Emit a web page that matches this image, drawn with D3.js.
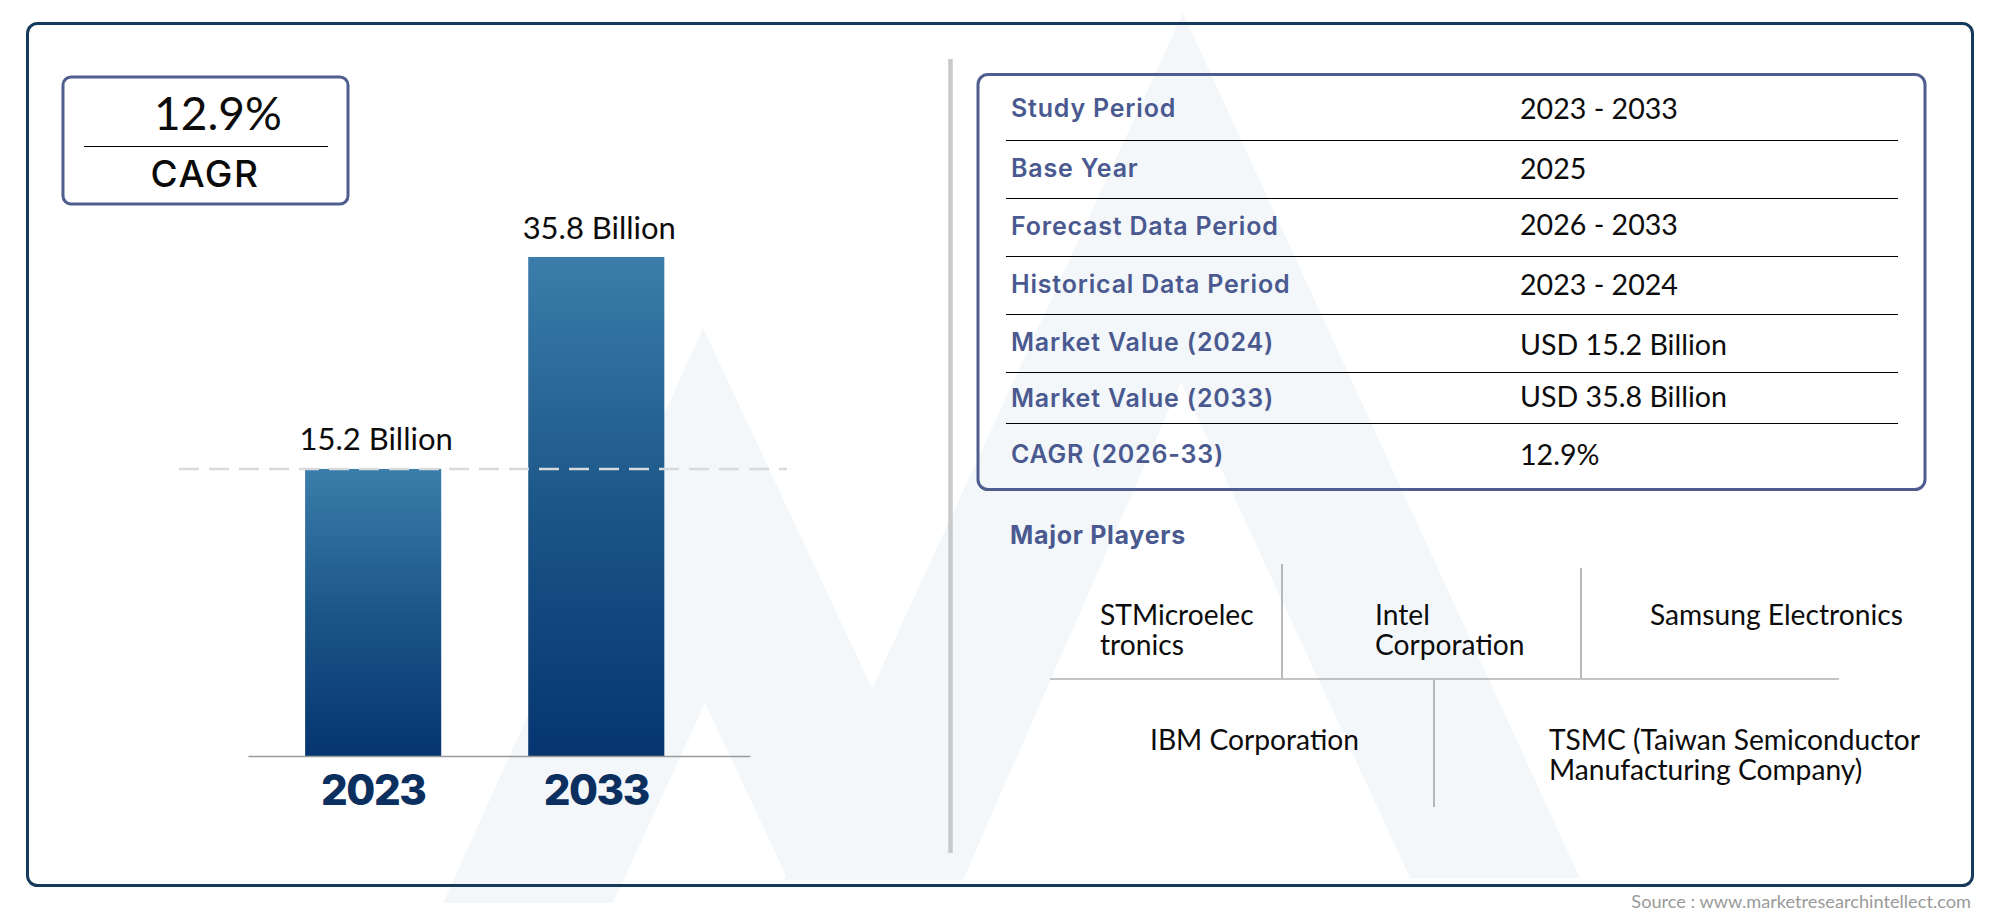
<!DOCTYPE html>
<html>
<head>
<meta charset="utf-8">
<title>Market overview</title>
<script src="https://cdn.jsdelivr.net/npm/d3@7"></script>
<style>
  html, body { margin: 0; padding: 0; background: #fff; }
  svg { display: block; }
  .jost { font-family: Lato, "Open Sans", sans-serif; fill: #0c0c0c; }
  .mont { font-family: Inter, "Noto Sans", sans-serif; }
</style>
</head>
<body>
<div id="chart"></div>
<script>
// chart values
const years = ['2023', '2033'];
const marketValues = [15.2, 35.8];
const cagrText = '12.9%';
const cagrLabel = 'CAGR';

const rowLabels = ['Study Period', 'Base Year', 'Forecast Data Period', 'Historical Data Period',
  'Market Value (2024)', 'Market Value (2033)', 'CAGR (2026-33)'];
const rowValues = ['2023 - 2033', '2025', '2026 - 2033', '2023 - 2024',
  'USD 15.2 Billion', 'USD 35.8 Billion', '12.9%'];

const playersTitle = 'Major Players';
const playerNames = [
  ['STMicroelec', 'tronics'],
  ['Intel', 'Corporation'],
  ['Samsung Electronics'],
  ['IBM Corporation'],
  ['TSMC (Taiwan Semiconductor', 'Manufacturing Company)']
];
const sourceText = 'Source : www.marketresearchintellect.com';

// layout
const width = 2000, height = 917;
const baseline = 756, barTop = 257;
const labelBaselines = [117, 177, 235, 293, 351, 407, 463];
const valueBaselines = [119, 179, 235, 295, 355, 407, 465];
const rowRules = [140, 198, 256, 314, 372, 423];
const playerAnchors = [[1100, 625], [1375, 625], [1650, 625], [1150, 750], [1549, 750]];
const playerRules = [
  [1050, 679, 1839, 679],
  [1282, 564, 1282, 678],
  [1581, 568, 1581, 678],
  [1434, 680, 1434, 807]
];
const logoShapes = [
  [[703, 328], [443, 903], [613, 903], [705, 703], [788, 880], [962, 880]],
  [[1183, 13], [784, 880], [963, 880], [1181, 382], [1410, 878], [1580, 878]]
];

const svg = d3.select('#chart').append('svg')
  .attr('width', width)
  .attr('height', height);

svg.append('rect').attr('width', width).attr('height', height).attr('fill', '#fff');

// bar colour runs top to bottom inside each bar
const grad = svg.append('defs').append('linearGradient')
  .attr('id', 'barFill')
  .attr('x1', 0).attr('y1', 0).attr('x2', 0).attr('y2', 1);
grad.append('stop').attr('offset', '0%').attr('stop-color', '#3b7dab');
grad.append('stop').attr('offset', '50%').attr('stop-color', '#1b5688');
grad.append('stop').attr('offset', '100%').attr('stop-color', '#06356f');

// faint logo behind everything
svg.append('g').selectAll('path')
  .data(logoShapes)
  .join('path')
  .attr('d', d => d3.line()(d) + 'Z')
  .attr('fill', '#f4f7fa');

// outer frame
svg.append('rect')
  .attr('x', 27.5).attr('y', 23.5)
  .attr('width', 1945).attr('height', 862)
  .attr('rx', 10)
  .attr('fill', 'none')
  .attr('stroke', '#163a5c')
  .attr('stroke-width', 3);

// divider
svg.append('line')
  .attr('x1', 950.5).attr('x2', 950.5)
  .attr('y1', 59).attr('y2', 853)
  .attr('stroke', '#c8c9ca')
  .attr('stroke-width', 4.5);

// CAGR box
svg.append('rect')
  .attr('x', 63).attr('y', 77)
  .attr('width', 285).attr('height', 127)
  .attr('rx', 8)
  .attr('fill', '#fff')
  .attr('stroke', '#4f5e8e')
  .attr('stroke-width', 3);
svg.append('line')
  .attr('x1', 84).attr('x2', 328)
  .attr('y1', 146.5).attr('y2', 146.5)
  .attr('stroke', '#000');
svg.append('text')
  .attr('class', 'jost')
  .attr('x', 218).attr('y', 130)
  .attr('text-anchor', 'middle')
  .attr('font-size', 46)
  .text(cagrText);
svg.append('text')
  .attr('class', 'mont')
  .attr('x', 205).attr('y', 187)
  .attr('text-anchor', 'middle')
  .attr('font-size', 37)
  .attr('font-weight', 500)
  .attr('letter-spacing', 1.5)
  .attr('fill', '#0a0a0a')
  .text(cagrLabel);

// bars
// the bars in the picture do not start at zero, so the domain starts below it
const x = d3.scaleBand()
  .domain(years)
  .range([248, 750])
  .paddingInner(0.39)
  .paddingOuter(0.32)
  .align(0.4);

const y = d3.scaleLinear()
  .domain([-12.7, 35.8])
  .range([baseline, barTop]);

const bars = years.map((year, i) => ({ year, value: marketValues[i] }));

svg.append('g').selectAll('rect')
  .data(bars)
  .join('rect')
  .attr('x', d => x(d.year))
  .attr('y', d => y(d.value))
  .attr('width', x.bandwidth())
  .attr('height', d => baseline - y(d.value))
  .attr('fill', 'url(#barFill)');

svg.append('line')
  .attr('x1', 179).attr('x2', 787)
  .attr('y1', y(marketValues[0])).attr('y2', y(marketValues[0]))
  .attr('stroke', '#d8d9da')
  .attr('stroke-width', 2.5)
  .attr('stroke-dasharray', '20 10');

svg.append('g').selectAll('text')
  .data(bars)
  .join('text')
  .attr('class', 'jost')
  .attr('x', d => x(d.year) + x.bandwidth() / 2 + 3)
  .attr('y', d => y(d.value) - 18.5)
  .attr('text-anchor', 'middle')
  .attr('font-size', 31)
  .text(d => `${d.value} Billion`);

const xAxis = svg.append('g')
  .attr('transform', `translate(0,${baseline})`)
  .call(d3.axisBottom(x).tickSize(0).tickPadding(19));
xAxis.select('.domain').attr('stroke', '#9a9a9a').attr('stroke-width', 1.5);
xAxis.selectAll('text')
  .attr('class', 'mont')
  .attr('font-size', 42)
  .attr('font-weight', 800)
  .attr('letter-spacing', -1.5)
  .attr('fill', '#0b2f5e');

// study table
svg.append('rect')
  .attr('x', 978).attr('y', 74.5)
  .attr('width', 947).attr('height', 415)
  .attr('rx', 10)
  .attr('fill', 'none')
  .attr('stroke', '#4f5e8e')
  .attr('stroke-width', 3);

svg.append('g').selectAll('line')
  .data(rowRules)
  .join('line')
  .attr('x1', 1006).attr('x2', 1898)
  .attr('y1', d => d + 0.5).attr('y2', d => d + 0.5)
  .attr('stroke', '#000');

svg.append('g').selectAll('text')
  .data(rowLabels)
  .join('text')
  .attr('class', 'mont')
  .attr('x', 1011)
  .attr('y', (d, i) => labelBaselines[i])
  .attr('font-size', 25)
  .attr('font-weight', 600)
  .attr('letter-spacing', 0.8)
  .attr('fill', '#4a5a90')
  .text(d => d);

svg.append('g').selectAll('text')
  .data(rowValues)
  .join('text')
  .attr('class', 'jost')
  .attr('x', 1520)
  .attr('y', (d, i) => valueBaselines[i])
  .attr('font-size', 28.6)
  .text(d => d);

// major players
svg.append('text')
  .attr('class', 'mont')
  .attr('x', 1010).attr('y', 544)
  .attr('font-size', 25)
  .attr('font-weight', 700)
  .attr('letter-spacing', 0.7)
  .attr('fill', '#4a5a90')
  .text(playersTitle);

svg.append('g').selectAll('line')
  .data(playerRules)
  .join('line')
  .attr('x1', d => d[0]).attr('y1', d => d[1])
  .attr('x2', d => d[2]).attr('y2', d => d[3])
  .attr('stroke', '#8a8a8a')
  .attr('stroke-width', 1.2);

svg.append('g').selectAll('text')
  .data(playerNames)
  .join('text')
  .attr('class', 'jost')
  .attr('font-size', 28.2)
  .each(function (lines, i) {
    const [px, py] = playerAnchors[i];
    d3.select(this).selectAll('tspan')
      .data(lines)
      .join('tspan')
      .attr('x', px)
      .attr('y', (d, j) => py + j * 30)
      .text(d => d);
  });

svg.append('text')
  .attr('x', 1971).attr('y', 908)
  .attr('text-anchor', 'end')
  .attr('font-family', 'Lato, sans-serif')
  .attr('font-size', 18.2)
  .attr('fill', '#9a9a9a')
  .text(sourceText);
</script>
</body>
</html>
